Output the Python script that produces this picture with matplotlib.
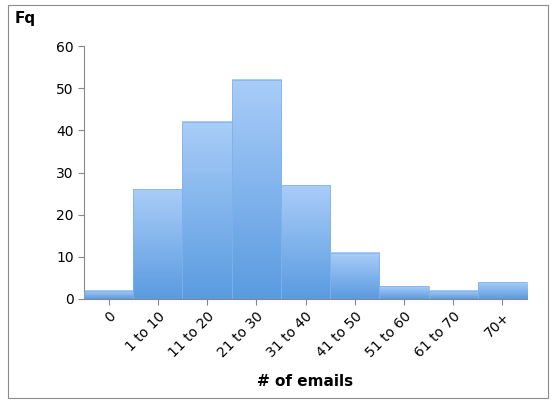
import matplotlib
matplotlib.use("Agg")
import matplotlib.pyplot as plt
import numpy as np
from matplotlib.colors import LinearSegmentedColormap
from matplotlib.patches import Rectangle

categories = ["0", "1 to 10", "11 to 20", "21 to 30", "31 to 40", "41 to 50", "51 to 60", "61 to 70", "70+"]
counts = [2, 26, 42, 52, 27, 11, 3, 2, 4]

fig = plt.figure(figsize=(5.54, 4.03), dpi=100)
fig.patches.append(Rectangle((8 / 554, 5 / 403), 540 / 554, 393 / 403, transform=fig.transFigure,
                             fill=False, edgecolor="#8c8c8c", linewidth=0.8))
ax = fig.add_axes([84 / 554, 1 - 299 / 403, 443 / 554, 253 / 403])

cmap = LinearSegmentedColormap.from_list("bar", ["#5a9be0", "#a9cdf8"])
grad = np.linspace(0, 1, 256).reshape(-1, 1)
x = np.arange(len(categories))
for xi, c in zip(x, counts):
    ax.imshow(grad, extent=(xi - 0.5, xi + 0.5, 0, c), origin="lower", cmap=cmap,
              aspect="auto", zorder=2)
    ax.add_patch(Rectangle((xi - 0.5, 0), 1, c, fill=False, edgecolor="#7fb1ea", linewidth=0.5, zorder=3))

ax.set_xlim(-0.5, len(categories) - 0.5)
ax.set_ylim(0, 60)
ax.set_yticks(range(0, 61, 10))
ax.set_xticks(x)
ax.set_xticklabels(categories, rotation=45, ha="right", rotation_mode="anchor", fontsize=10)
ax.tick_params(axis="y", labelsize=10, length=4, color="#888888")
ax.tick_params(axis="x", length=4, color="#888888")
for s in ["top", "right"]:
    ax.spines[s].set_visible(False)
for s in ["left", "bottom"]:
    ax.spines[s].set_color("#888888")
ax.set_xlabel("# of emails", fontsize=11, fontweight="bold", labelpad=10)
fig.text(15 / 554, 1 - 18 / 403, "Fq", fontsize=11, fontweight="bold", va="center")

fig.savefig("out.png", dpi=100)
